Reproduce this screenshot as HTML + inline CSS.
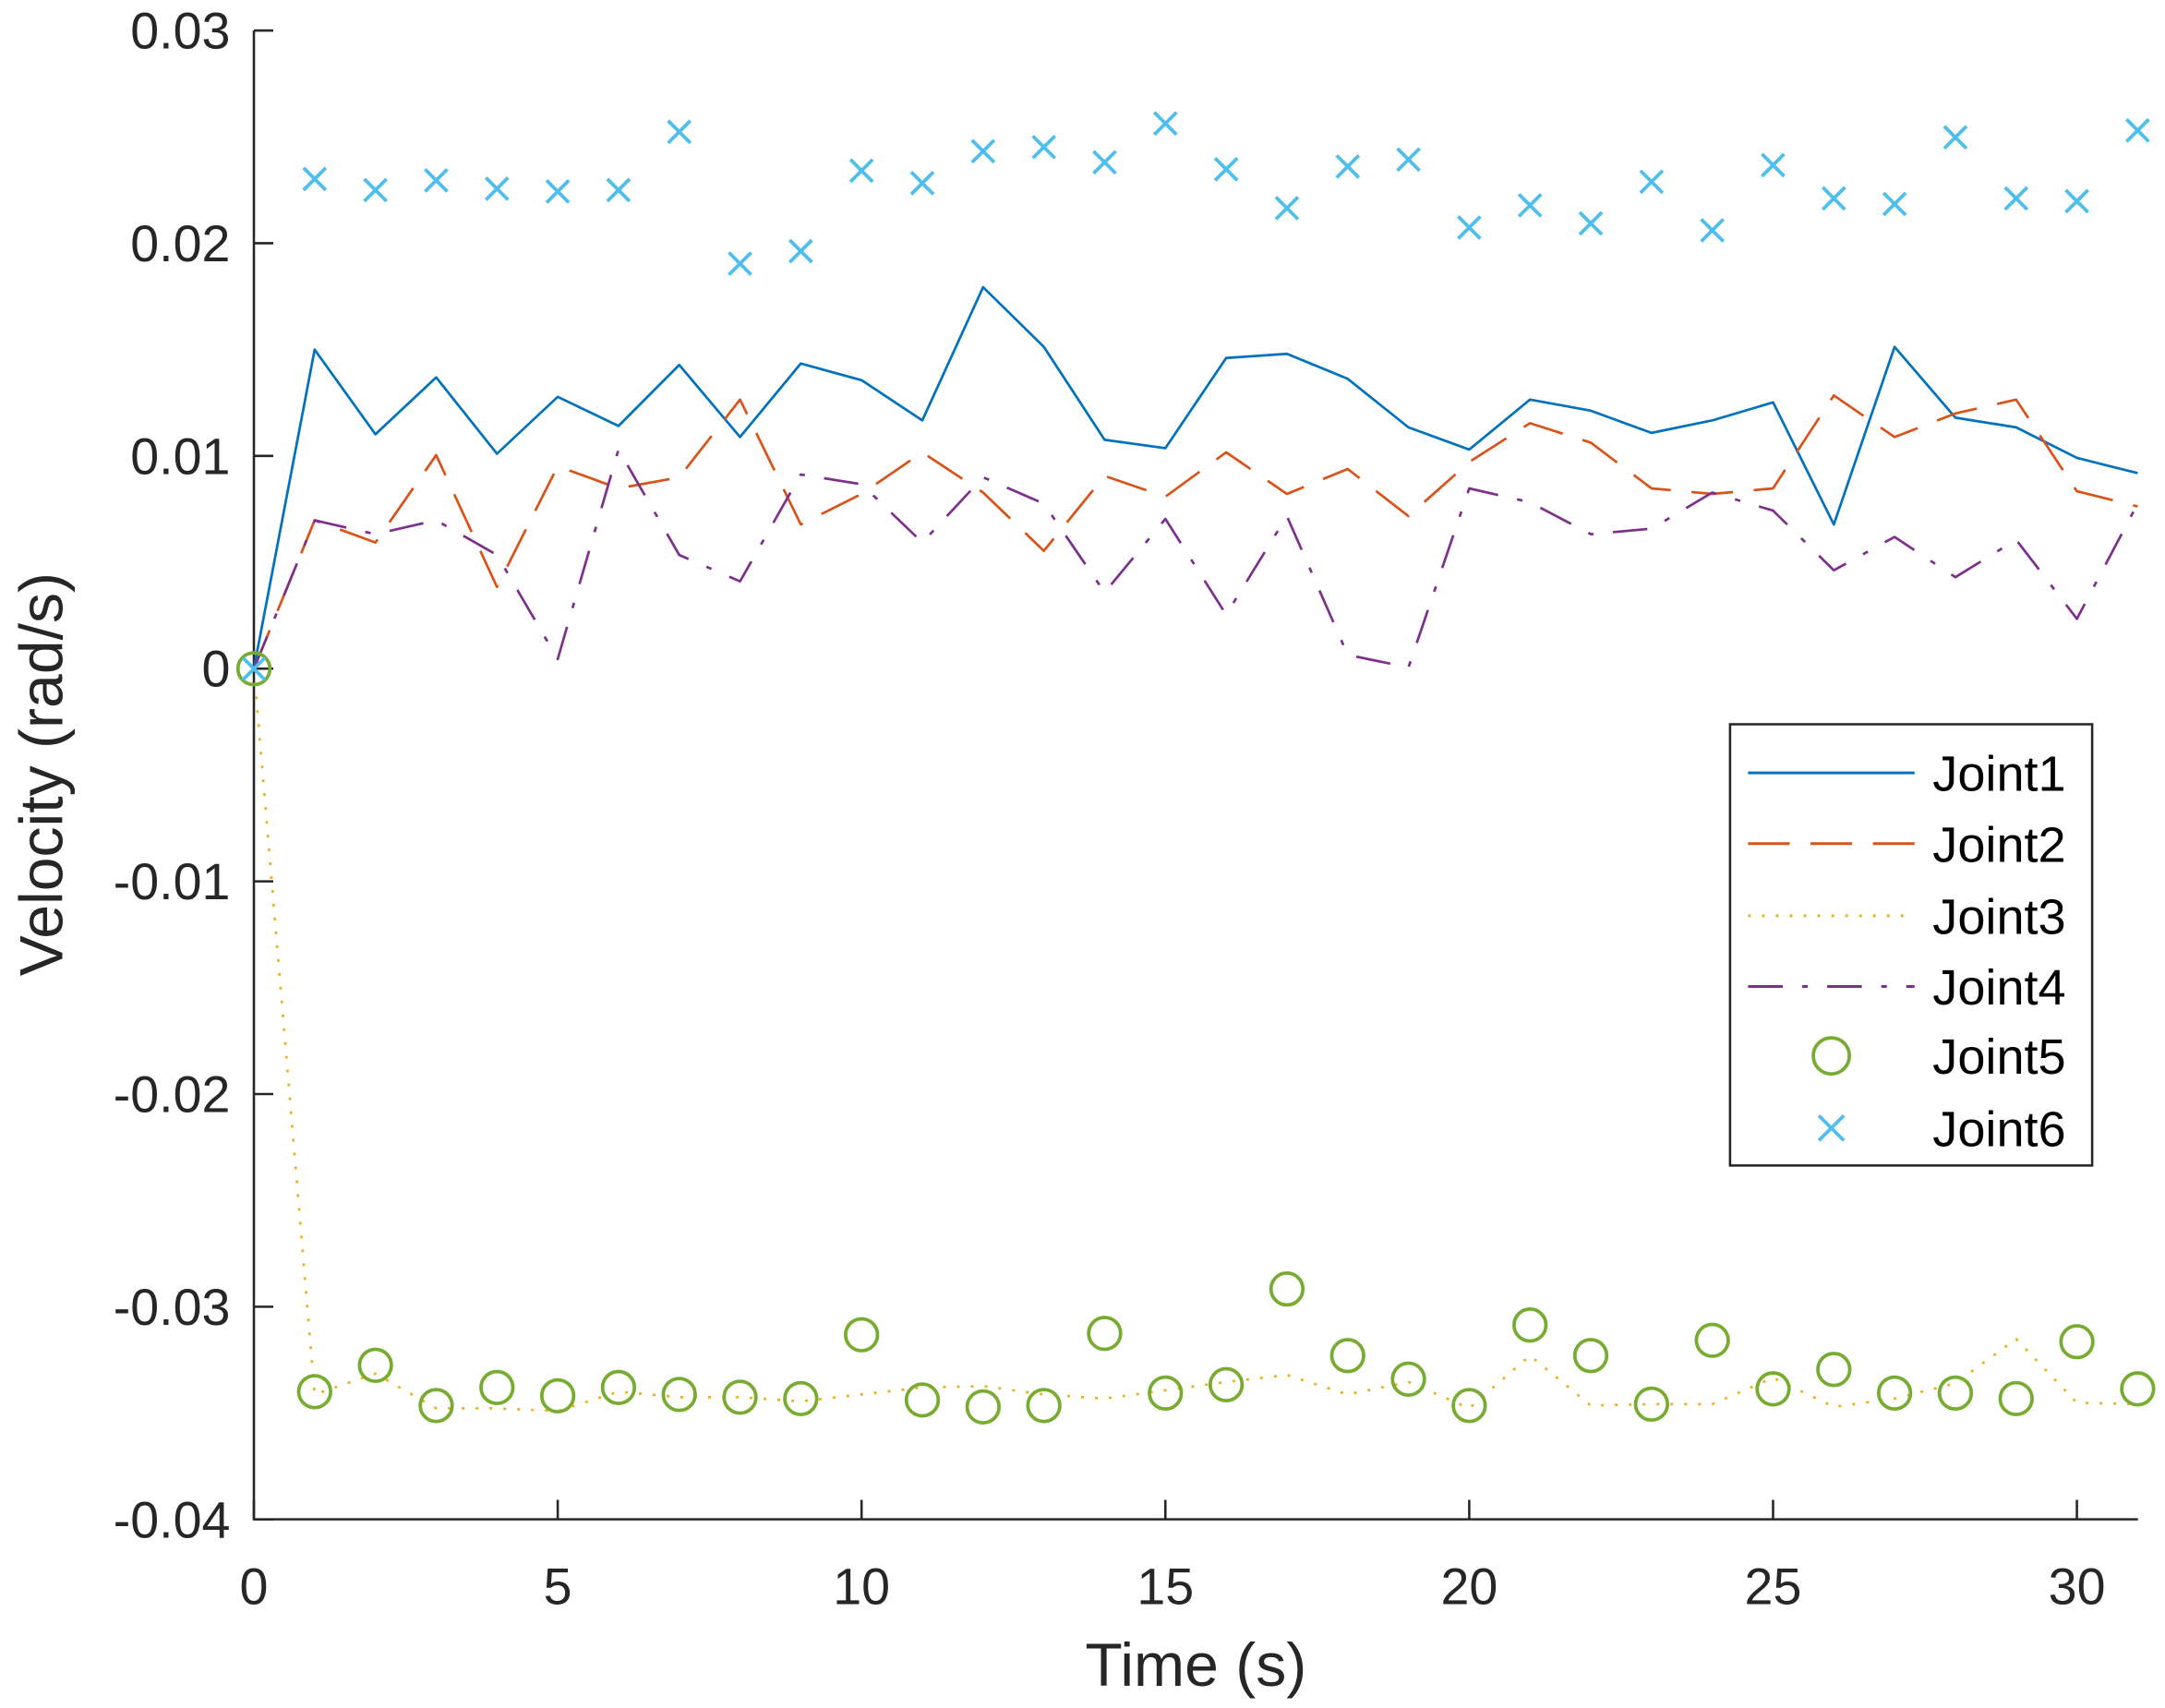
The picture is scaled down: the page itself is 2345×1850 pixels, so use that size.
<!DOCTYPE html>
<html><head><meta charset="utf-8"><style>html,body{margin:0;padding:0;background:#fff}svg{display:block}</style></head>
<body>
<svg id="s" width="2345" height="1850" viewBox="0 0 1560.5 1231" preserveAspectRatio="none" xmlns="http://www.w3.org/2000/svg" font-family="Liberation Sans, sans-serif">
<rect width="1560.5" height="1231" fill="#fff"/>
<g id="ax" stroke="#262626" stroke-width="1.7" fill="none">
<path d="M183,22 V1095 H1541"/>
</g>
<g id="ticks" font-size="37" fill="#262626"></g>
<text x="862" y="1215" font-size="44" fill="#262626" text-anchor="middle">Time (s)</text>
<text transform="translate(45,558) rotate(-90)" font-size="44" fill="#262626" text-anchor="middle">Velocity (rad/s)</text>
<g id="data"></g>
<g id="leg">
<rect x="1247" y="522" width="261" height="318" fill="#fff" stroke="#262626" stroke-width="1.7"/>
<line x1="1260" y1="557" x2="1380" y2="557" stroke="#0072BD" stroke-width="2"/>
<line x1="1260" y1="608" x2="1380" y2="608" stroke="#D95319" stroke-width="2" stroke-dasharray="30,15"/>
<line x1="1260" y1="660" x2="1380" y2="660" stroke="#EDB120" stroke-width="2" stroke-dasharray="2,8"/>
<line x1="1260" y1="711" x2="1380" y2="711" stroke="#7E2F8E" stroke-width="2" stroke-dasharray="25,14,4,14"/>
<circle cx="1320" cy="761" r="13" fill="none" stroke="#77AC30" stroke-width="2.5"/>
<path d="M1311,804 L1329,822 M1329,804 L1311,822" stroke="#4DBEEE" stroke-width="2.5"/>
<g font-size="36" fill="#000">
<text x="1393" y="570">Joint1</text><text x="1393" y="621">Joint2</text><text x="1393" y="673">Joint3</text>
<text x="1393" y="724">Joint4</text><text x="1393" y="774">Joint5</text><text x="1393" y="826">Joint6</text>
</g>
</g>
</svg>
<script>
var NS="http://www.w3.org/2000/svg";
function X(t){return 183+t*43.8;}
function el(p,n,a){var e=document.createElementNS(NS,n);for(var k in a)e.setAttribute(k,a[k]);p.appendChild(e);return e;}
var tk=document.getElementById('ticks'),ax=document.getElementById('ax');
[0,5,10,15,20,25,30].forEach(function(t){var x=X(t);el(ax,'path',{d:'M'+x+',1095 V1081'});var e=el(tk,'text',{x:x,y:1156,'text-anchor':'middle'});e.textContent=t;});
var yl=['0.03','0.02','0.01','0','-0.01','-0.02','-0.03','-0.04'];
yl.forEach(function(l,i){var y=22+i*153.3;el(ax,'path',{d:'M183,'+y+' H197'});var e=el(tk,'text',{x:166,y:y+13,'text-anchor':'end'});e.textContent=l;});
var J1=[482,252,313,272,327,286,307,263,315,262,274,303,207,250,317,323,258,255,273,308,324,288,296,312,303,290,378,250,301,308,330,341];
var J2=[482,375,391,328,423,336,352,344,288,378,356,326,355,397,343,358,326,356,338,372,333,305,319,352,356,352,285,315,298,288,354,365];
var J3=[482,1005,990,1015,1015,1017,1003,1007,1007,1010,1005,1000,999,1005,1008,1002,996,991,1005,996,1015,977,1013,1012,1012,993,1014,1008,997,965,1011,1012];
var J4=[482,375,385,375,400,475,324,400,419,342,349,391,344,363,427,374,443,372,472,481,352,362,385,381,355,368,411,387,416,389,446,363];
var J5=[482,1003,984,1013,1000,1006,1000,1005,1007,1008,962,1009,1014,1013,961,1004,998,929,977,994,1013,955,977,1012,966,1001,987,1004,1004,1008,967,1001];
var J6=[482,129,137,130,136,138,137,95,190,181,123,132,109,106,117,89,122,150,120,115,164,148,161,131,166,119,143,147,99,143,145,94];
var d=document.getElementById('data');
function line(a,c,da){el(d,'polyline',{points:a.map(function(y,i){return X(i)+','+y}).join(' '),fill:'none',stroke:c,'stroke-width':1.8,'stroke-dasharray':da||'none','stroke-linejoin':'round'});}
line(J1,'#0072BD');line(J2,'#D95319','30,15');line(J3,'#EDB120','2,8');line(J4,'#7E2F8E','25,14,4,14');
J5.forEach(function(y,i){el(d,'circle',{cx:X(i),cy:y,r:11.5,fill:'none',stroke:'#77AC30','stroke-width':2.5});});
J6.forEach(function(y,i){var x=X(i);el(d,'path',{d:'M'+(x-8)+','+(y-8)+' L'+(x+8)+','+(y+8)+' M'+(x+8)+','+(y-8)+' L'+(x-8)+','+(y+8),stroke:'#4DBEEE','stroke-width':2.5});});
</script>
</body></html>
